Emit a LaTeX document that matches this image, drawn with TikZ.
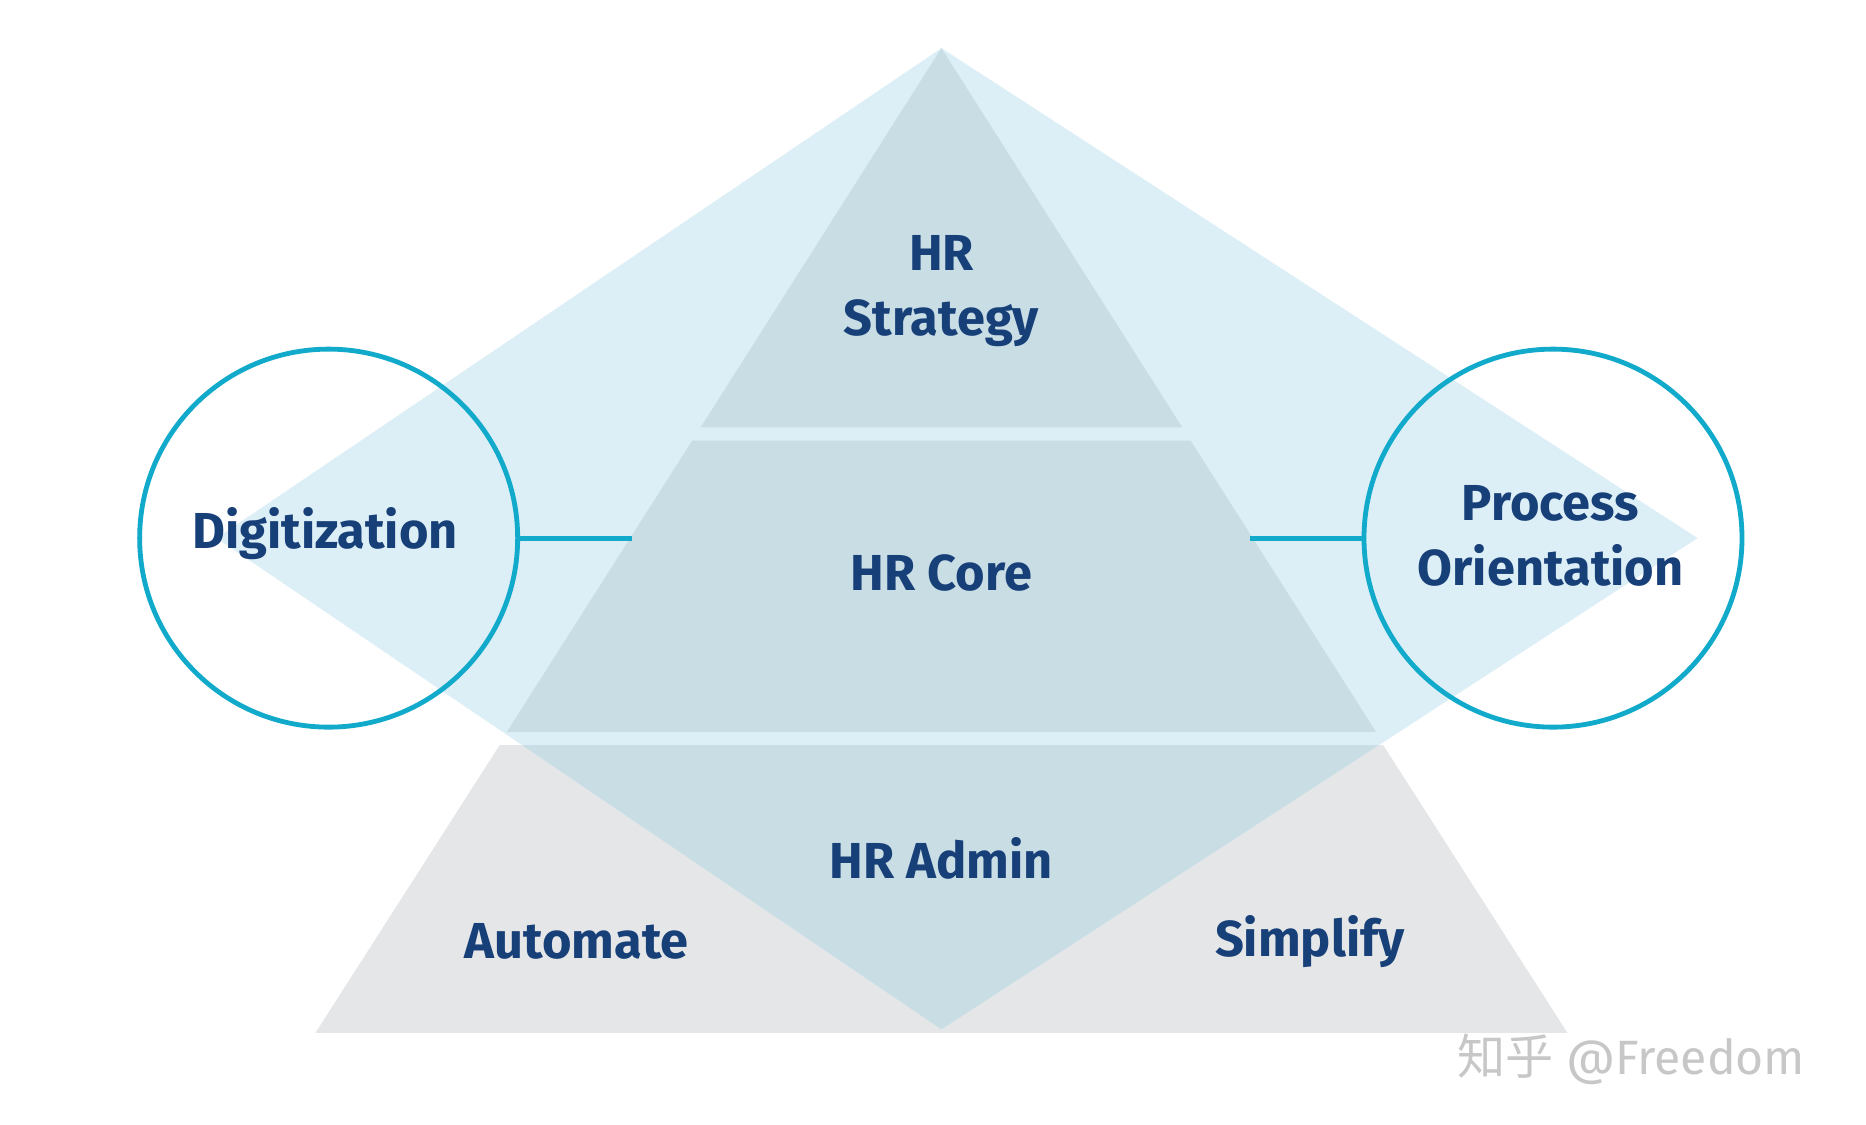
\documentclass[tikz,border=0pt]{standalone}
\usepackage{fontspec}
\setmainfont{Fira Sans}
\newfontfamily\cjk{Noto Sans CJK SC}
\usetikzlibrary{positioning}
\definecolor{dmdblue}{HTML}{DCEEF6}
\definecolor{pyrgray}{HTML}{E5E6E8}
\definecolor{mixblue}{HTML}{C9DDE5}
\definecolor{ringcyan}{HTML}{12AACB}
\definecolor{navy}{HTML}{173F78}
\tikzset{
  lbl/.style={font=\fontsize{42}{54}\selectfont\bfseries, text=navy, align=center},
  ring/.style={circle, draw=ringcyan, line width=4pt, minimum size=314pt, inner sep=0pt},
  link/.style={draw=ringcyan, line width=4pt}
}
\begin{document}
\begin{tikzpicture}[x=1pt,y=-1pt]
\useasboundingbox (0,0) rectangle (1550,934);
\fill[white] (0,0) rectangle (1550,934);

% pyramid bands
\def\band#1#2{(782-0.636*#1*1.2578+782*0,#1) -- cycle}
\fill[pyrgray] (262,858) -- (415,619) -- (1149,619) -- (1302,858) -- cycle;
\fill[pyrgray] (421,608) -- (575,366) -- (989,366) -- (1143,608) -- cycle;
\fill[pyrgray] (582,355) -- (782,40) -- (982,355) -- cycle;

% diamond
\fill[dmdblue] (782,40) -- (1410,447) -- (782,855) -- (180,447) -- cycle;
\begin{scope}
  \clip (782,40) -- (1410,447) -- (782,855) -- (180,447) -- cycle;
  \fill[mixblue] (262,858) -- (415,619) -- (1149,619) -- (1302,858) -- cycle;
  \fill[mixblue] (421,608) -- (575,366) -- (989,366) -- (1143,608) -- cycle;
  \fill[mixblue] (582,355) -- (782,40) -- (982,355) -- cycle;
\end{scope}

% circles and links
\node[ring] (digit) at (273,447) {};
\node[ring] (proc) at (1290,447) {};
\coordinate (digitEnd) at (525,447);
\coordinate (procEnd) at (1038,447);
\draw[link] (digit.east) -- (digitEnd);
\draw[link] (proc.west) -- (procEnd);

% labels
\node[lbl] (strategy) at (782,242) {HR\\Strategy};
\node[lbl] (core) at (782,476) {HR Core};
\node[lbl] (admin) at (782,713) {HR Admin};
\node[lbl] (automate) at (479,782) {Automate};
\node[lbl] (simplify) at (1088,782) {Simplify};
\node[lbl] (digitT) at (270,443) {Digitization};
\node[lbl] (procT) at (1288,445) {Process\\Orientation};

\node[font=\fontsize{40}{48}\selectfont, text=black!22] (mark) at (1355,880) {{\cjk 知乎} @Freedom};
\end{tikzpicture}
\end{document}
